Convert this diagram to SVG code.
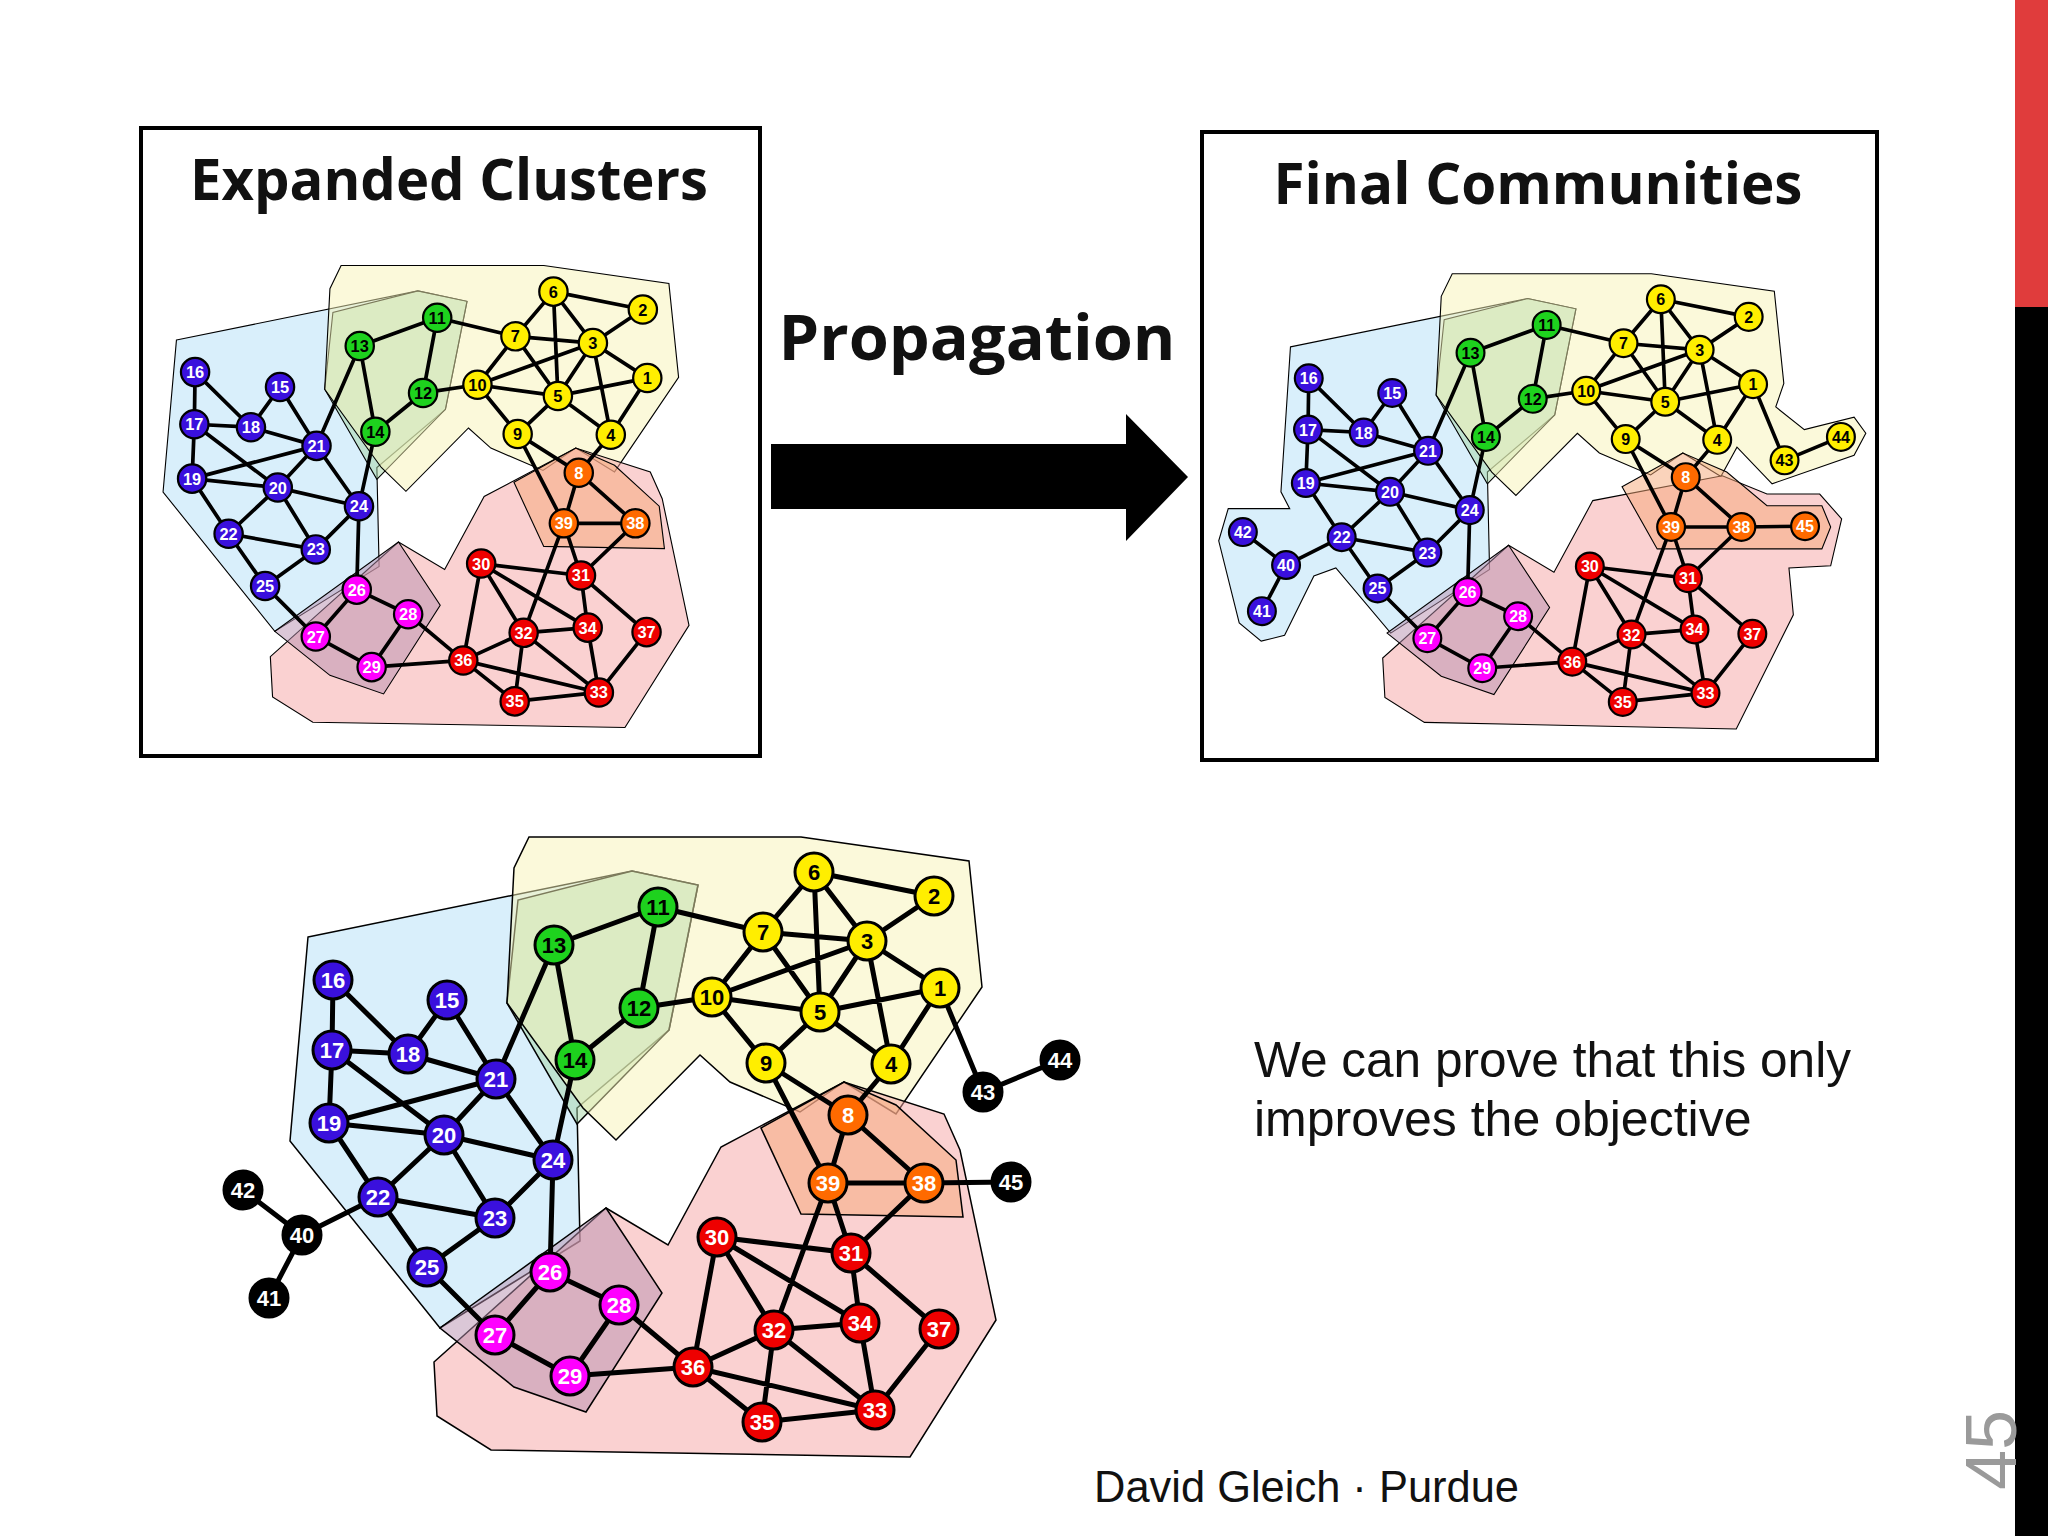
<svg xmlns="http://www.w3.org/2000/svg" xmlns:xlink="http://www.w3.org/1999/xlink" width="2048" height="1536" viewBox="0 0 2048 1536">
<style>
.e{stroke:#000;stroke-width:5;fill:none}
.hull{stroke:#000;stroke-width:1.5;fill-opacity:.5}
.hb{fill:#b3e0f7}.hy{fill:#f7f3b5}.hg{fill:#a8d8a8}.hp{fill:#f5a3a3}.ho{fill:#f5a878}.hm{fill:#b890b0}
.n circle{stroke:#000;stroke-width:3}
.n text{font-family:"Liberation Sans",Arial,sans-serif;font-weight:bold;font-size:22px;text-anchor:middle;dominant-baseline:central}
.Y circle{fill:#ffee00}.Y text{fill:#000}
.G circle{fill:#1ed21e}.G text{fill:#000}
.B circle{fill:#3a10dd}.B text{fill:#fff}
.O circle{fill:#ff6a00}.O text{fill:#fff}
.R circle{fill:#ee0000}.R text{fill:#fff}
.M circle{fill:#ff00ff}.M text{fill:#fff}
.K circle{fill:#000}.K text{fill:#fff}
.title{font-family:"Open Sans","Liberation Sans",sans-serif;font-weight:bold;text-anchor:middle;fill:#111}
.body{font-family:"Liberation Sans",Arial,sans-serif;fill:#111}
.pg{font-family:"Liberation Sans",Arial,sans-serif;fill:#9a9a9a;font-size:72px;text-anchor:middle}
</style>
<defs>
<g id="edges39">
<path class="e" d="M814,872L934,896M814,872L763,932M814,872L867,941M814,872L820,1012M934,896L867,941M763,932L867,941M763,932L712,997M763,932L820,1012M658,907L763,932M867,941L712,997M867,941L820,1012M867,941L940,988M867,941L891,1064M940,988L820,1012M940,988L891,1064M712,997L820,1012M712,997L766,1063M712,997L639,1008M820,1012L766,1063M820,1012L891,1064M891,1064L848,1115M766,1063L848,1115M766,1063L828,1183M848,1115L828,1183M848,1115L924,1183M828,1183L924,1183M828,1183L851,1253M828,1183L774,1330M924,1183L851,1253M658,907L554,945M658,907L639,1008M639,1008L575,1060M554,945L575,1060M554,945L496,1079M575,1060L553,1160M333,980L332,1050M333,980L408,1054M447,1000L408,1054M447,1000L496,1079M332,1050L408,1054M332,1050L329,1123M332,1050L444,1135M408,1054L496,1079M329,1123L496,1079M329,1123L444,1135M329,1123L378,1197M444,1135L496,1079M444,1135L553,1160M444,1135L378,1197M444,1135L495,1218M496,1079L553,1160M378,1197L495,1218M378,1197L427,1267M495,1218L553,1160M495,1218L427,1267M427,1267L495,1335M553,1160L550,1272M550,1272L495,1335M550,1272L619,1305M495,1335L570,1376M619,1305L570,1376M619,1305L693,1367M570,1376L693,1367M693,1367L717,1237M693,1367L774,1330M693,1367L762,1422M693,1367L875,1410M717,1237L851,1253M717,1237L774,1330M717,1237L860,1323M851,1253L860,1323M851,1253L939,1329M774,1330L860,1323M774,1330L762,1422M774,1330L875,1410M860,1323L875,1410M762,1422L875,1410M939,1329L875,1410"/>
</g>
<g id="nodes39">
<g class="n Y"><circle cx="940" cy="988" r="19"/><text x="940" y="988">1</text></g>
<g class="n Y"><circle cx="934" cy="896" r="19"/><text x="934" y="896">2</text></g>
<g class="n Y"><circle cx="867" cy="941" r="19"/><text x="867" y="941">3</text></g>
<g class="n Y"><circle cx="891" cy="1064" r="19"/><text x="891" y="1064">4</text></g>
<g class="n Y"><circle cx="820" cy="1012" r="19"/><text x="820" y="1012">5</text></g>
<g class="n Y"><circle cx="814" cy="872" r="19"/><text x="814" y="872">6</text></g>
<g class="n Y"><circle cx="763" cy="932" r="19"/><text x="763" y="932">7</text></g>
<g class="n O"><circle cx="848" cy="1115" r="19"/><text x="848" y="1115">8</text></g>
<g class="n Y"><circle cx="766" cy="1063" r="19"/><text x="766" y="1063">9</text></g>
<g class="n Y"><circle cx="712" cy="997" r="19"/><text x="712" y="997">10</text></g>
<g class="n G"><circle cx="658" cy="907" r="19"/><text x="658" y="907">11</text></g>
<g class="n G"><circle cx="639" cy="1008" r="19"/><text x="639" y="1008">12</text></g>
<g class="n G"><circle cx="554" cy="945" r="19"/><text x="554" y="945">13</text></g>
<g class="n G"><circle cx="575" cy="1060" r="19"/><text x="575" y="1060">14</text></g>
<g class="n B"><circle cx="447" cy="1000" r="19"/><text x="447" y="1000">15</text></g>
<g class="n B"><circle cx="333" cy="980" r="19"/><text x="333" y="980">16</text></g>
<g class="n B"><circle cx="332" cy="1050" r="19"/><text x="332" y="1050">17</text></g>
<g class="n B"><circle cx="408" cy="1054" r="19"/><text x="408" y="1054">18</text></g>
<g class="n B"><circle cx="329" cy="1123" r="19"/><text x="329" y="1123">19</text></g>
<g class="n B"><circle cx="444" cy="1135" r="19"/><text x="444" y="1135">20</text></g>
<g class="n B"><circle cx="496" cy="1079" r="19"/><text x="496" y="1079">21</text></g>
<g class="n B"><circle cx="378" cy="1197" r="19"/><text x="378" y="1197">22</text></g>
<g class="n B"><circle cx="495" cy="1218" r="19"/><text x="495" y="1218">23</text></g>
<g class="n B"><circle cx="553" cy="1160" r="19"/><text x="553" y="1160">24</text></g>
<g class="n B"><circle cx="427" cy="1267" r="19"/><text x="427" y="1267">25</text></g>
<g class="n M"><circle cx="550" cy="1272" r="19"/><text x="550" y="1272">26</text></g>
<g class="n M"><circle cx="495" cy="1335" r="19"/><text x="495" y="1335">27</text></g>
<g class="n M"><circle cx="619" cy="1305" r="19"/><text x="619" y="1305">28</text></g>
<g class="n M"><circle cx="570" cy="1376" r="19"/><text x="570" y="1376">29</text></g>
<g class="n R"><circle cx="717" cy="1237" r="19"/><text x="717" y="1237">30</text></g>
<g class="n R"><circle cx="851" cy="1253" r="19"/><text x="851" y="1253">31</text></g>
<g class="n R"><circle cx="774" cy="1330" r="19"/><text x="774" y="1330">32</text></g>
<g class="n R"><circle cx="875" cy="1410" r="19"/><text x="875" y="1410">33</text></g>
<g class="n R"><circle cx="860" cy="1323" r="19"/><text x="860" y="1323">34</text></g>
<g class="n R"><circle cx="762" cy="1422" r="19"/><text x="762" y="1422">35</text></g>
<g class="n R"><circle cx="693" cy="1367" r="19"/><text x="693" y="1367">36</text></g>
<g class="n R"><circle cx="939" cy="1329" r="19"/><text x="939" y="1329">37</text></g>
<g class="n O"><circle cx="924" cy="1183" r="19"/><text x="924" y="1183">38</text></g>
<g class="n O"><circle cx="828" cy="1183" r="19"/><text x="828" y="1183">39</text></g>
</g>
<g id="hullsBase">
<polygon class="hull hy" points="529,837 801,837 969,861 982,987 896,1114 844,1082 800,1112 730,1082 700,1055 616,1140 583,1108 507,1003 514,868"/>
<polygon class="hull hp" points="606,1208 668,1245 721,1147 844,1082 944,1114 960,1150 996,1320 910,1457 491,1450 437,1416 434,1362"/>
<polygon class="hull ho" points="761,1128 844,1082 896,1105 956,1160 963,1217 801,1214"/>
<polygon class="hull hm" points="606,1208 662,1293 586,1412 514,1387 440,1328"/>
</g>
</defs>

<rect width="2048" height="1536" fill="#fff"/>
<rect x="2015" y="0" width="33" height="307" fill="#e03c3c"/>
<rect x="2015" y="307" width="33" height="1229" fill="#000"/>
<text transform="translate(2016,1450) rotate(-90)" class="pg">45</text>

<g id="panel-expanded">
<rect x="141" y="128" width="619" height="628" fill="#fff" stroke="#000" stroke-width="4"/>
<text class="title" x="449" y="200" font-size="58" textLength="518" lengthAdjust="spacingAndGlyphs">Expanded Clusters</text>
<g transform="translate(-53,-358) scale(0.745)">
<polygon class="hull hb" points="308,937 632,871 698,885 669,1030 577,1108 580,1241 440,1328 290,1141"/>
<polygon class="hull hg" points="507,1003 518,900 632,871 698,885 669,1030 577,1124"/>
<use xlink:href="#hullsBase"/>
<g id="tl-connectors"><use xlink:href="#edges39"/></g>
<use xlink:href="#nodes39"/>
</g>
</g>

<g id="propagation">
<text class="title" x="977" y="360" font-size="62" textLength="397" lengthAdjust="spacingAndGlyphs">Propagation</text>
<polygon points="771,444 1126,444 1126,414 1188,477 1126,541 1126,509 771,509" fill="#000"/>
</g>

<g id="panel-final">
<rect x="1202" y="132" width="675" height="628" fill="#fff" stroke="#000" stroke-width="4"/>
<text class="title" x="1538" y="204" font-size="58" textLength="529" lengthAdjust="spacingAndGlyphs">Final Communities</text>
<g transform="translate(1065,-339) scale(0.732)">
<polygon class="hull hb" points="308,937 632,871 698,885 669,1030 577,1108 580,1241 445,1328 370,1239 340,1250 300,1331 268,1339 238,1314 210,1202 223,1158 307,1158 295,1135"/>
<polygon class="hull hg" points="507,1003 518,900 632,871 698,885 669,1030 577,1124"/>
<polygon class="hull hy" points="529,837 801,837 969,861 982,987 971,1019 1010,1050 1078,1033 1094,1055 1078,1085 966,1124 918,1074 896,1114 844,1082 800,1112 730,1082 700,1055 616,1140 583,1108 507,1003 514,868"/>
<polygon class="hull hp" points="606,1208 668,1245 721,1147 898,1113 959,1138 1031,1138 1061,1172 1046,1236 989,1239 995,1303 917,1459 491,1450 437,1416 434,1362"/>
<polygon class="hull ho" points="761,1128 844,1082 904,1108 959,1154 1034,1154 1046,1183 1034,1213 809,1213"/>
<polygon class="hull hm" points="606,1208 662,1293 586,1412 514,1387 440,1328"/>
<g id="tr-connectors"><use xlink:href="#edges39"/>
<path class="e" d="M378,1197L302,1235M302,1235L243,1190M302,1235L269,1298M940,988L983,1092M983,1092L1060,1060M924,1183L1011,1182"/></g>
<use xlink:href="#nodes39"/>
<g class="n B"><circle cx="302" cy="1235" r="19"/><text x="302" y="1235">40</text></g>
<g class="n B"><circle cx="269" cy="1298" r="19"/><text x="269" y="1298">41</text></g>
<g class="n B"><circle cx="243" cy="1190" r="19"/><text x="243" y="1190">42</text></g>
<g class="n Y"><circle cx="983" cy="1092" r="19"/><text x="983" y="1092">43</text></g>
<g class="n Y"><circle cx="1060" cy="1060" r="19"/><text x="1060" y="1060">44</text></g>
<g class="n O"><circle cx="1011" cy="1182" r="19"/><text x="1011" y="1182">45</text></g>
</g>
</g>

<g id="bottom-graph">
<polygon class="hull hb" points="308,937 632,871 698,885 669,1030 577,1108 580,1241 440,1328 290,1141"/>
<polygon class="hull hg" points="507,1003 518,900 632,871 698,885 669,1030 577,1124"/>
<use xlink:href="#hullsBase"/>
<g id="connectors"><use xlink:href="#edges39"/>
<path class="e" d="M378,1197L302,1235M302,1235L243,1190M302,1235L269,1298M940,988L983,1092M983,1092L1060,1060M924,1183L1011,1182"/></g>
<use xlink:href="#nodes39"/>
<g id="n40" class="n K"><circle cx="302" cy="1235" r="19"/><text x="302" y="1235">40</text></g>
<g id="n41" class="n K"><circle cx="269" cy="1298" r="19"/><text x="269" y="1298">41</text></g>
<g id="n42" class="n K"><circle cx="243" cy="1190" r="19"/><text x="243" y="1190">42</text></g>
<g id="n43" class="n K"><circle cx="983" cy="1092" r="19"/><text x="983" y="1092">43</text></g>
<g id="n44" class="n K"><circle cx="1060" cy="1060" r="19"/><text x="1060" y="1060">44</text></g>
<g id="n45" class="n K"><circle cx="1011" cy="1182" r="19"/><text x="1011" y="1182">45</text></g>
</g>

<text class="body" x="1254" y="1077" font-size="50" textLength="597" lengthAdjust="spacingAndGlyphs">We can prove that this only</text>
<text class="body" x="1254" y="1136" font-size="50">improves the objective</text>
<text class="body" x="1094" y="1502" font-size="44" textLength="425" lengthAdjust="spacingAndGlyphs">David Gleich · Purdue</text>
</svg>
